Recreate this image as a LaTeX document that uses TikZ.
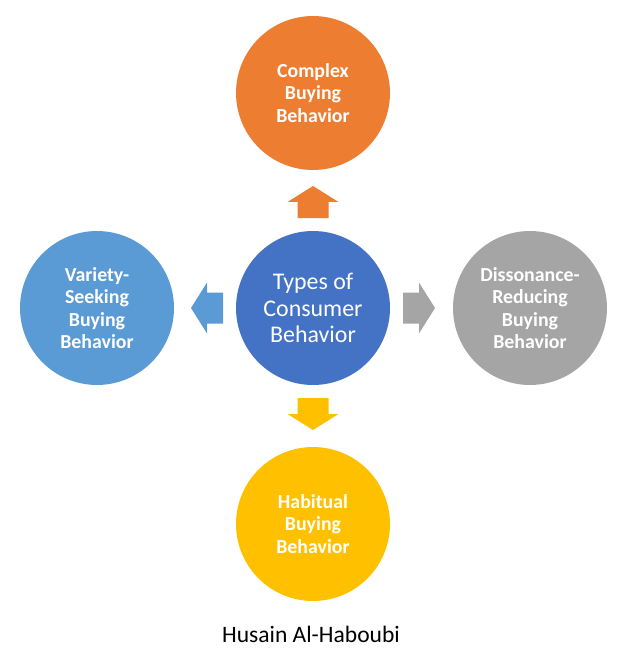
\documentclass[tikz,border=0pt]{standalone}
\usepackage{fontspec}
\setmainfont{Carlito}
\usetikzlibrary{positioning,calc}

\definecolor{hubblue}{HTML}{4472C4}
\definecolor{cpxorange}{HTML}{ED7D31}
\definecolor{varblue}{HTML}{5B9BD5}
\definecolor{disgray}{HTML}{A5A5A5}
\definecolor{habgold}{HTML}{FFC000}

\tikzset{
  kind/.style={circle,minimum size=3.08cm,inner sep=0pt,align=center,text=white,
    font=\bfseries\fontsize{11.3}{12.8}\selectfont},
}

\begin{document}
\begin{tikzpicture}[x=0.02cm,y=0.02cm]
\useasboundingbox (0,0) rectangle (622,-662);
% centre and the four kinds
\node[kind,fill=hubblue,font=\fontsize{13.6}{15.3}\selectfont] (hub) at (313,-308) {Types of\\Consumer\\Behavior};
\node[kind,fill=cpxorange] (complex) at (313,-93) {Complex\\Buying\\Behavior};
\node[kind,fill=varblue] (variety) at (97,-308) {Variety-\\Seeking\\Buying\\Behavior};
\node[kind,fill=disgray] (dissonance) at (530,-308) {Dissonance-\\Reducing\\Buying\\Behavior};
\node[kind,fill=habgold] (habitual) at (313,-524) {Habitual\\Buying\\Behavior};
% block arrows out of the centre
\foreach \ang/\col in {0/disgray,90/cpxorange,180/varblue,270/habgold}
  \fill[\col,rotate around={\ang:(hub.center)}]
    ($(hub.center)+(90,-15.5)$) -- ++(16,0) -- ++(0,-10) -- ($(hub.center)+(122,0)$)
    -- ($(hub.center)+(106,25.5)$) -- ++(0,-10) -- ($(hub.center)+(90,15.5)$) -- cycle;
\node[anchor=base,font=\fontsize{13.4}{16}\selectfont] (author) at (311,-642) {Husain Al-Haboubi};
\end{tikzpicture}
\end{document}
